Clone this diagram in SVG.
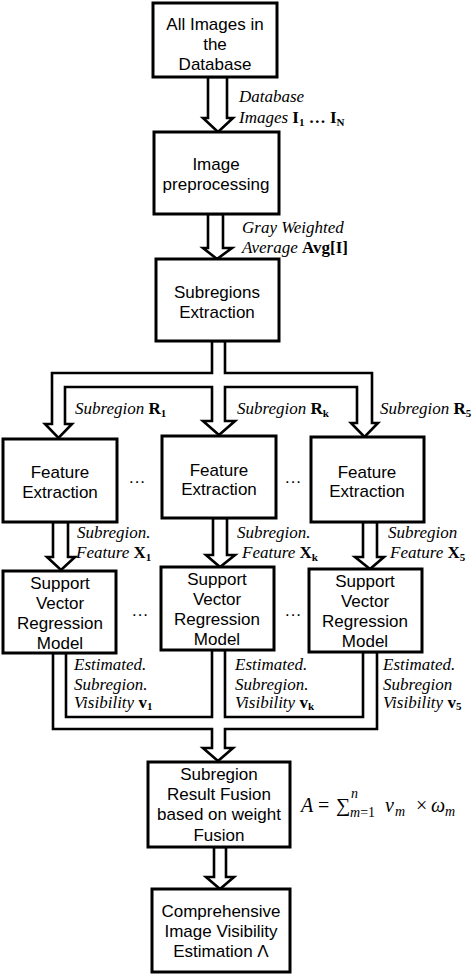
<svg xmlns="http://www.w3.org/2000/svg" width="474" height="974" viewBox="0 0 474 974">
<style>
.box{fill:#fff;stroke:#000;stroke-width:3}
.arr{fill:#fff;stroke:#000;stroke-width:2.6;stroke-linejoin:miter}
.t{font-family:"Liberation Sans",Arial,sans-serif;font-size:17px;fill:#000;text-anchor:middle}
.l{font-family:"Liberation Serif","Times New Roman",serif;font-size:17px;font-style:italic;fill:#000}
.b{font-style:normal;font-weight:bold}
.s{font-size:11px}
.dots{font-family:"Liberation Sans",Arial,sans-serif;font-size:17px;fill:#000;text-anchor:middle}
.m{font-family:"Liberation Serif","Times New Roman",serif;font-size:20px;fill:#000}
.mi{font-style:italic}
.ms{font-size:14px}
</style>
<rect width="474" height="974" fill="#fff"/>
<g id="connectors">
<polygon class="arr" points="208,77 208,118 203,118 218,132 233,118 227,118 227,77"/>
<polygon class="arr" points="208,214 208,248 203,248 217,259 232,248 223,248 223,214"/>
<polygon class="arr" points="212,341 212,373 52,373 52,424 45,424 58.5,438 72,424 65,424 65,387 212,387 212,421 203,421 219,435 235,421 225,421 225,387 357,387 357,423 351,423 364.5,437 378,423 372,423 372,373 225,373 225,341"/>
<polygon class="arr" points="53,522 53,557 47,557 61,570 75,557 68,557 68,522"/>
<polygon class="arr" points="213,518 213,555 206,555 220,567 235,555 227,555 227,518"/>
<polygon class="arr" points="363,522 363,557 355,557 370,569 384,557 377,557 377,522"/>
<polygon class="arr" points="53,653 53,729 212,729 212,748 203,748 218,761 233,748 225,748 225,729 377,729 377,652 363,652 363,717 225,717 225,650 212,650 212,717 66,717 66,653"/>
<polygon class="arr" points="214,847 214,877 206,877 220,889 234,877 226,877 226,847"/>
</g>
<g id="n-database">
<rect class="box" x="153" y="3" width="124" height="74"/>
<text class="t" x="215" y="30">All Images in</text>
<text class="t" x="215" y="50">the</text>
<text class="t" x="215" y="70">Database</text>
</g>
<g id="n-preproc">
<rect class="box" x="154" y="132" width="125" height="82"/>
<text class="t" x="216" y="170">Image</text>
<text class="t" x="216" y="190">preprocessing</text>
</g>
<g id="n-subext">
<rect class="box" x="156" y="259" width="123" height="82"/>
<text class="t" x="217" y="298">Subregions</text>
<text class="t" x="217" y="318">Extraction</text>
</g>
<g id="n-fe1">
<rect class="box" x="3" y="439" width="114" height="83"/>
<text class="t" x="60" y="478">Feature</text>
<text class="t" x="60" y="498">Extraction</text>
</g>
<g id="n-fe2">
<rect class="box" x="162" y="436" width="114" height="82"/>
<text class="t" x="219" y="476">Feature</text>
<text class="t" x="219" y="495">Extraction</text>
</g>
<g id="n-fe3">
<rect class="box" x="311" y="437" width="113" height="85"/>
<text class="t" x="367" y="478">Feature</text>
<text class="t" x="367" y="497">Extraction</text>
</g>
<g id="n-svr1">
<rect class="box" x="3" y="571" width="113" height="82"/>
<text class="t" x="60" y="589">Support</text>
<text class="t" x="60" y="609">Vector</text>
<text class="t" x="60" y="629">Regression</text>
<text class="t" x="60" y="649">Model</text>
</g>
<g id="n-svr2">
<rect class="box" x="161" y="567" width="113" height="83"/>
<text class="t" x="217" y="585">Support</text>
<text class="t" x="217" y="605">Vector</text>
<text class="t" x="217" y="625">Regression</text>
<text class="t" x="217" y="645">Model</text>
</g>
<g id="n-svr3">
<rect class="box" x="309" y="569" width="113" height="83"/>
<text class="t" x="365" y="587">Support</text>
<text class="t" x="365" y="607">Vector</text>
<text class="t" x="365" y="627">Regression</text>
<text class="t" x="365" y="647">Model</text>
</g>
<g id="n-fusion">
<rect class="box" x="148" y="762" width="142" height="85"/>
<text class="t" x="219" y="780">Subregion</text>
<text class="t" x="219" y="800">Result Fusion</text>
<text class="t" x="219" y="820">based on weight</text>
<text class="t" x="219" y="841">Fusion</text>
</g>
<g id="n-final">
<rect class="box" x="152" y="889" width="138" height="83"/>
<text class="t" x="221" y="917">Comprehensive</text>
<text class="t" x="221" y="937">Image Visibility</text>
<text class="t" x="221" y="957">Estimation Λ</text>
</g>
<g id="labels">
<text class="l" x="239" y="102">Database</text>
<text class="l" x="239" y="123">Images <tspan class="b">I</tspan><tspan class="b s" dy="3">1</tspan><tspan class="b" dy="-3"> … I</tspan><tspan class="b s" dy="3">N</tspan></text>
<text class="l" x="242" y="233">Gray Weighted</text>
<text class="l" x="242" y="253">Average <tspan class="b">Avg[I]</tspan></text>
<text class="l" x="75" y="414">Subregion <tspan class="b">R</tspan><tspan class="b s" dy="3">1</tspan></text>
<text class="l" x="237" y="414">Subregion <tspan class="b">R</tspan><tspan class="b s" dy="3">k</tspan></text>
<text class="l" x="380" y="414">Subregion <tspan class="b">R</tspan><tspan class="b s" dy="3">5</tspan></text>
<text class="l" x="77" y="538">Subregion.</text>
<text class="l" x="76" y="558">Feature <tspan class="b">X</tspan><tspan class="b s" dy="3">1</tspan></text>
<text class="l" x="237" y="538">Subregion.</text>
<text class="l" x="242" y="558">Feature <tspan class="b">X</tspan><tspan class="b s" dy="3">k</tspan></text>
<text class="l" x="388" y="538">Subregion</text>
<text class="l" x="390" y="558">Feature <tspan class="b">X</tspan><tspan class="b s" dy="3">5</tspan></text>
<text class="l" x="74" y="670">Estimated.</text>
<text class="l" x="74" y="690">Subregion.</text>
<text class="l" x="74" y="708">Visibility <tspan class="b">v</tspan><tspan class="b s" dy="2">1</tspan></text>
<text class="l" x="235" y="670">Estimated.</text>
<text class="l" x="235" y="690">Subregion.</text>
<text class="l" x="235" y="708">Visibility <tspan class="b">v</tspan><tspan class="b s" dy="2">k</tspan></text>
<text class="l" x="383" y="670">Estimated.</text>
<text class="l" x="383" y="690">Subregion</text>
<text class="l" x="383" y="708">Visibility <tspan class="b">v</tspan><tspan class="b s" dy="2">5</tspan></text>
<text class="dots" x="137" y="487">···</text>
<text class="dots" x="293" y="487">···</text>
<text class="dots" x="140" y="620">···</text>
<text class="dots" x="293" y="620">···</text>
</g>
<g id="formula">
<text class="m mi" x="301" y="812">A</text>
<text class="m" x="318" y="812">=</text>
<text class="m" x="336" y="812">∑</text>
<text class="m mi ms" x="351" y="798">n</text>
<text class="m ms" x="350" y="817"><tspan class="mi">m</tspan>=1</text>
<text class="m mi" x="385" y="812">ν</text>
<text class="m mi ms" x="395" y="816">m</text>
<text class="m" x="416" y="812">×</text>
<text class="m mi" x="431" y="812">ω</text>
<text class="m mi ms" x="445" y="816">m</text>
</g>
</svg>
